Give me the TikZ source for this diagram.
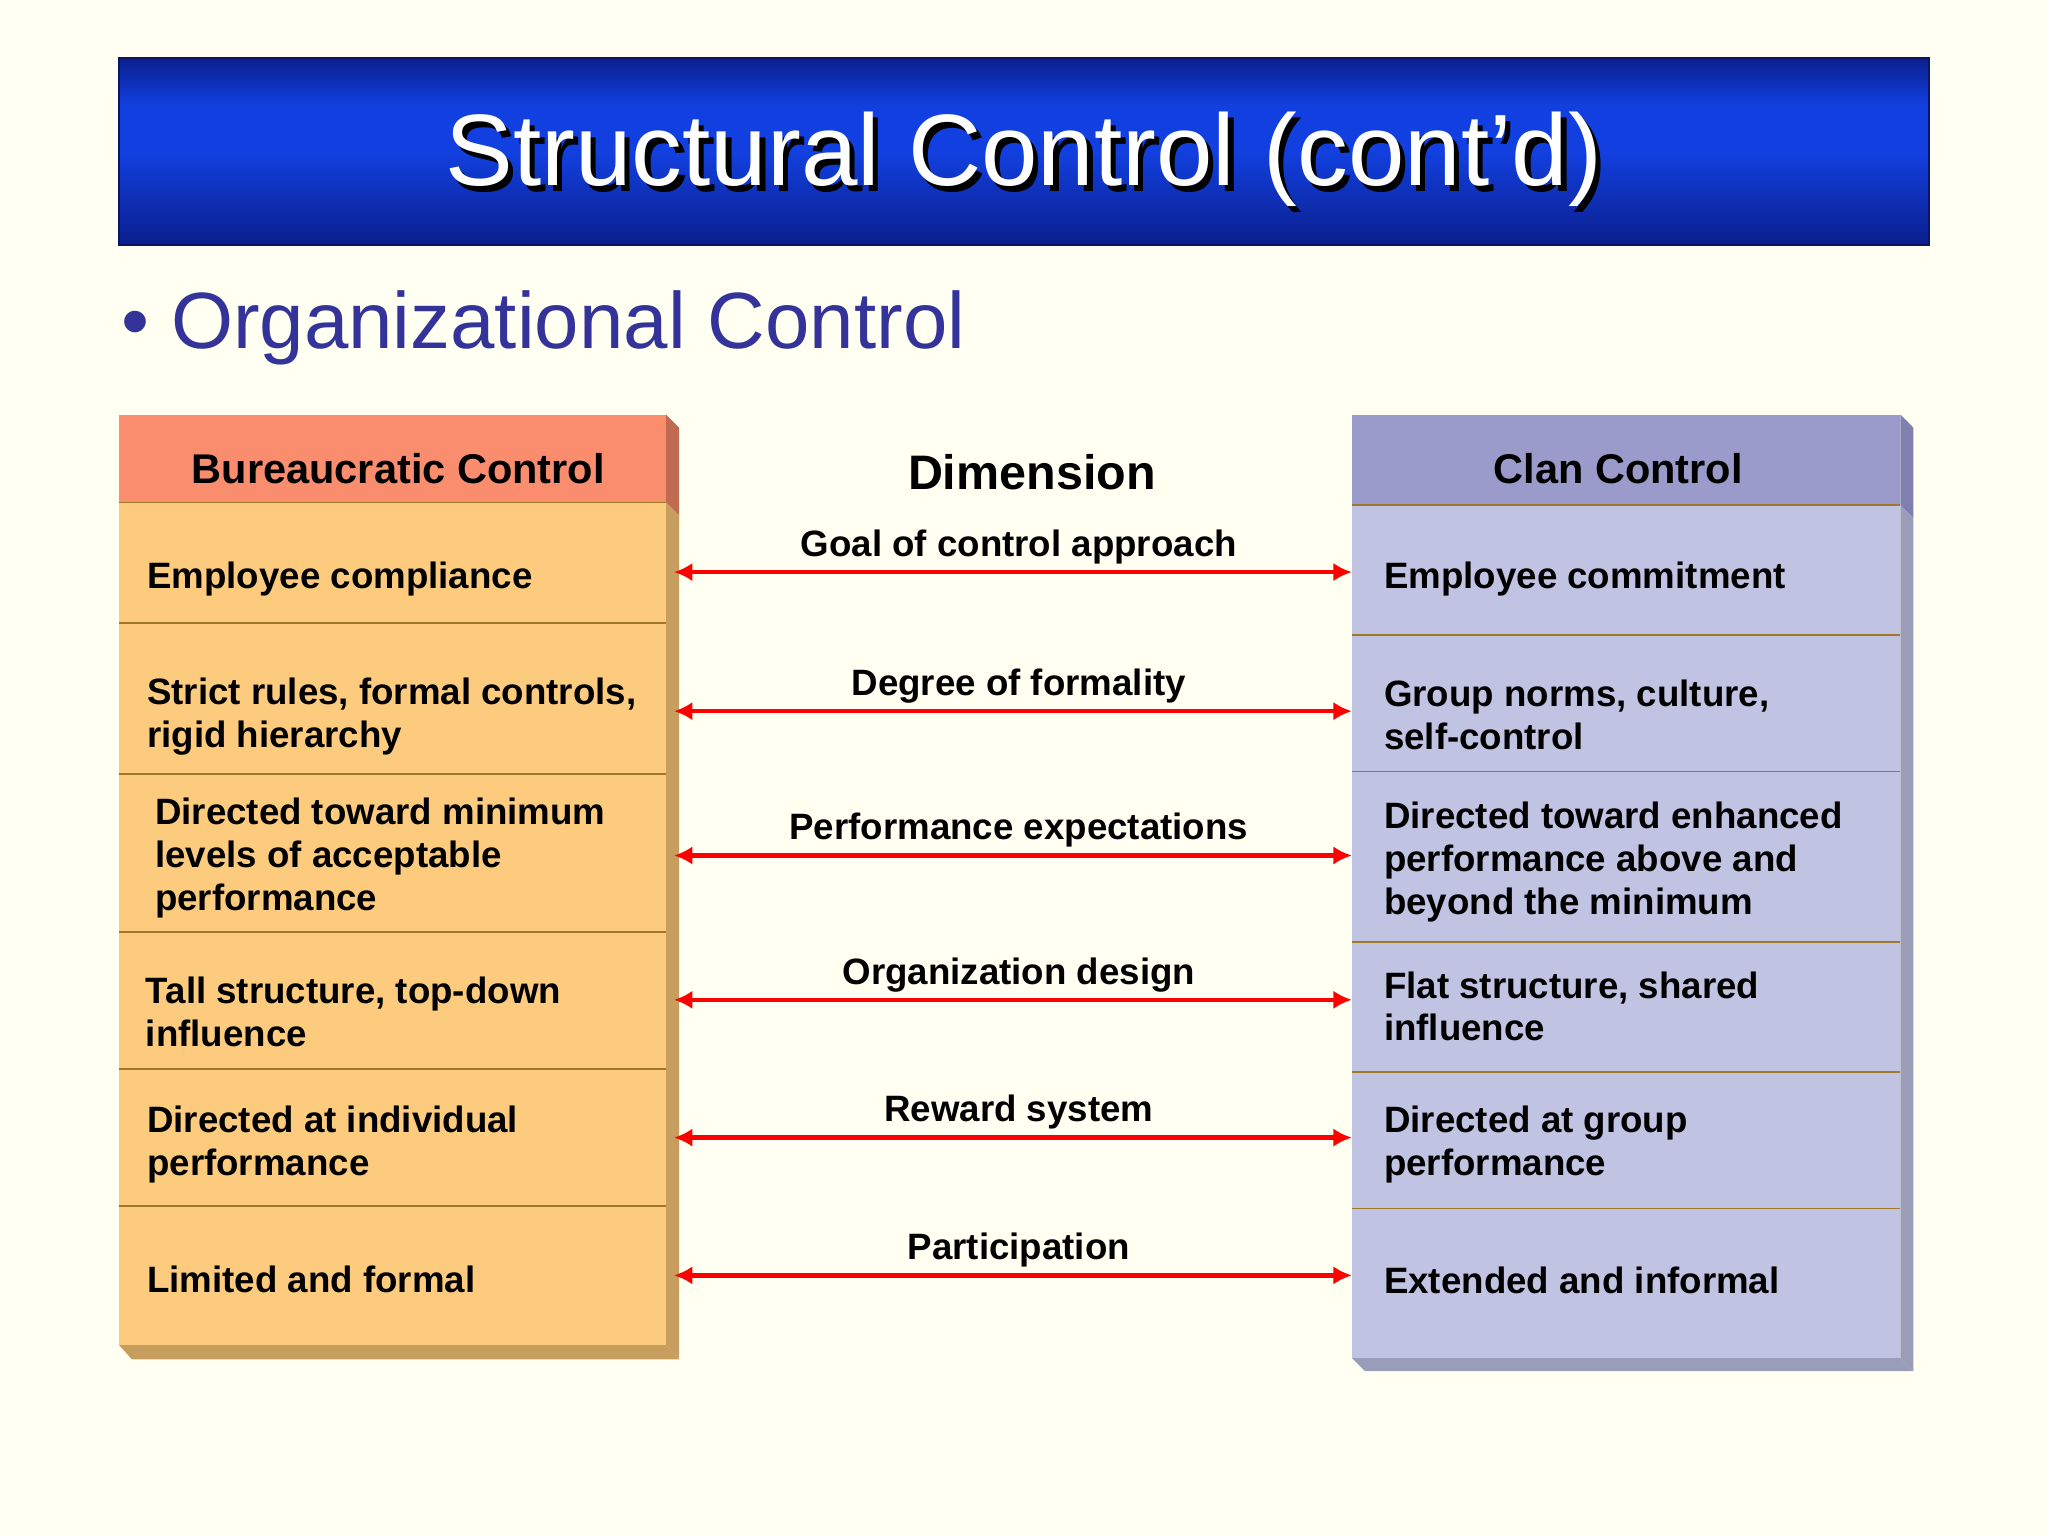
\documentclass[tikz,border=0pt]{standalone}
\usepackage{fontspec}
\setmainfont{Liberation Sans}
\usetikzlibrary{arrows.meta}
\definecolor{bg}{HTML}{FFFFF2}
\definecolor{tblue}{HTML}{1240E0}
\definecolor{tdark}{HTML}{0A1E8C}
\definecolor{bul}{HTML}{333399}
\definecolor{salmon}{HTML}{F98D6E}
\definecolor{salmonside}{HTML}{C06A52}
\definecolor{peach}{HTML}{FDCB7E}
\definecolor{peachside}{HTML}{C89E5E}
\definecolor{divl}{HTML}{A0782A}
\definecolor{lav}{HTML}{9B9BCB}
\definecolor{lavside}{HTML}{8080B0}
\definecolor{lavbody}{HTML}{C0C4E2}
\definecolor{lavbodyside}{HTML}{9A9DB8}
\begin{document}
\begin{tikzpicture}[x=0.00995cm,y=-0.01cm,
  celltxt/.style={font=\fontsize{7.95}{9.3}\selectfont\bfseries,anchor=west,align=left,inner sep=0pt},
  dimtxt/.style={font=\fontsize{7.95}{9.3}\selectfont\bfseries,anchor=base,inner sep=0pt},
  hdrtxt/.style={font=\fontsize{9}{10}\selectfont\bfseries,inner sep=0pt},
  dimarrow/.style={red,line width=1pt,{Latex[length=4pt,width=4pt]}-{Latex[length=4pt,width=4pt]}},
  divline/.style={divl,line width=0.4pt}]
\fill[bg] (0,0) rectangle (1568,1170);
\useasboundingbox (0,0) rectangle (1568,1170);
% title bar
\shade[top color=tdark,bottom color=tblue,middle color=tblue] (91,44) rectangle (1477,116);
\shade[top color=tblue,bottom color=tdark] (91,115) rectangle (1477,187);
\draw[tdark!70!black,line width=0.4pt] (91,44) rectangle (1477,187);
\node[font=\fontsize{22}{24}\selectfont,text=black] at (788,126) {Structural Control (cont’d)};
\node[font=\fontsize{22}{24}\selectfont,text=white] (title) at (784,121) {Structural Control (cont’d)};
\node[font=\fontsize{17.3}{19}\selectfont,text=bul,anchor=west,inner sep=0pt] (sub) at (92,250) {\textbullet\ Organizational Control};
% left column
\fill[salmonside] (510,316) -- (520,326) -- (520,393) -- (510,383) -- cycle;
\fill[peachside] (510,383) -- (520,393) -- (520,1036) -- (510,1025) -- cycle;
\fill[peachside] (91,1025) -- (510,1025) -- (520,1036) -- (101,1036) -- cycle;
\fill[salmon] (91,316) rectangle (510,383);
\fill[peach] (91,383) rectangle (510,1025);
\foreach \y in {475,590,710,815,919} \draw[divline] (91,\y) -- (510,\y);
\draw[divline] (91,383) -- (510,383);
\node[hdrtxt] (lh) at (305,357) {Bureaucratic Control};
% right column
\fill[lavside] (1455,316) -- (1465,326) -- (1465,395) -- (1455,385) -- cycle;
\fill[lavbodyside] (1455,385) -- (1465,395) -- (1465,1045) -- (1455,1035) -- cycle;
\fill[lavbodyside] (1035,1035) -- (1455,1035) -- (1465,1045) -- (1045,1045) -- cycle;
\fill[lav] (1035,316) rectangle (1455,385);
\fill[lavbody] (1035,385) rectangle (1455,1035);
\foreach \y in {484,588,718,817,921} \draw[divline] (1035,\y) -- (1455,\y);
\draw[divline] (1035,385) -- (1455,385);
\node[hdrtxt] (rh) at (1239,357) {Clan Control};
\node[font=\fontsize{10.5}{12}\selectfont\bfseries] (dh) at (790,360) {Dimension};
% left cells
\node[celltxt] (l1) at (112,441) {Employee compliance};
\node[celltxt] (l2) at (112,546) {Strict rules, formal controls,\\rigid hierarchy};
\node[celltxt] (l3) at (118,654) {Directed toward minimum\\levels of acceptable\\performance};
\node[celltxt] (l4) at (111,771) {Tall structure, top-down\\influence};
\node[celltxt] (l5) at (112,872) {Directed at individual\\performance};
\node[celltxt] (l6) at (112,975) {Limited and formal};
% right cells
\node[celltxt] (r1) at (1059,441) {Employee commitment};
\node[celltxt] (r2) at (1059,545) {Group norms, culture,\\self-control};
\node[celltxt] (r3) at (1059,657) {Directed toward enhanced\\performance above and\\beyond the minimum};
\node[celltxt] (r4) at (1059,767) {Flat structure, shared\\influence};
\node[celltxt] (r5) at (1059,872) {Directed at group\\performance};
\node[celltxt] (r6) at (1059,976) {Extended and informal};
% arrows
\foreach \i/\y/\t in {1/436/Goal of control approach,2/542/Degree of formality,3/652/Performance expectations,4/762/Organization design,5/867/Reward system,6/972/Participation}{
  \coordinate (a\i) at (516,\y);
  \coordinate (b\i) at (1035,\y);
  \draw[dimarrow] (a\i) -- (b\i);
  \node[dimtxt] (d\i) at (780,\y-12) {\t};
}
\end{tikzpicture}
\end{document}
